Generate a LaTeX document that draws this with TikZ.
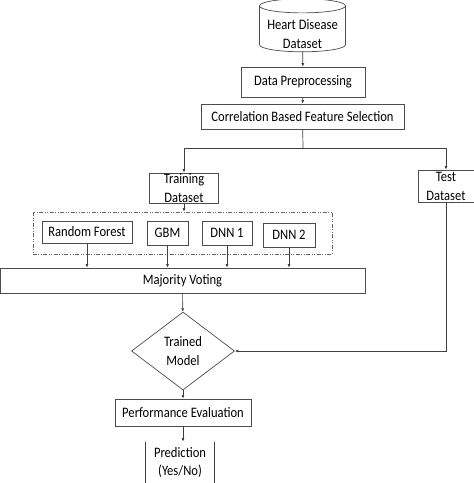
\documentclass[tikz,border=0pt]{standalone}
\usepackage{fontspec}
\setmainfont{Carlito}[FakeStretch=0.87]
\usetikzlibrary{shapes.geometric,arrows.meta}

\begin{document}
\begin{tikzpicture}[x=1bp,y=-1bp,
  font=\fontsize{14.5}{19}\selectfont,
  box/.style={draw=black!70,line width=0.7bp,inner sep=0pt,align=center,text=black},
  arr/.style={draw=black!75,line width=0.7bp,-{Latex[length=3.5bp,width=3bp]}},
  ln/.style={draw=black!75,line width=0.7bp}]
\useasboundingbox (0,0) rectangle (474,483);
\clip (0,0) rectangle (474,483);
\node[box,cylinder,shape border rotate=90,aspect=0.2,minimum width=86bp,minimum height=53bp,
  label={[yshift=-5bp,align=center,text=black]center:Heart Disease\\Dataset}] (data) at (302.5,29) {\phantom{Heart Disease}};
\node[box,minimum width=124bp,minimum height=30bp] (prep) at (303,82) {Data Preprocessing};
\node[box,minimum width=203bp,minimum height=25bp] (corr) at (302.5,116.5) {Correlation Based Feature Selection};
\node[box,minimum width=69bp,minimum height=30bp] (train) at (184,188) {Training\\Dataset};
\node[box,minimum width=56bp,minimum height=32bp] (test) at (446,186) {Test\\Dataset};
\node[box,draw=black!60,dash pattern=on 4bp off 1.5bp on 1bp off 1.5bp on 1bp off 1.5bp,minimum width=299bp,minimum height=42bp] (ens) at (182.5,233) {};
\node[box,minimum width=90bp,minimum height=22bp] (rf) at (87,232) {Random Forest};
\node[box,minimum width=41bp,minimum height=24bp] (gbm) at (167.5,233) {GBM};
\node[box,minimum width=50bp,minimum height=24bp] (dnn1) at (227,233) {DNN 1};
\node[box,minimum width=52bp,minimum height=24bp] (dnn2) at (289,235) {DNN 2};
\node[box,minimum width=365bp,minimum height=25bp] (vote) at (182.5,280.5) {Majority Voting};
\node[box,diamond,minimum width=103bp,minimum height=78bp] (model) at (183,351) {Trained\\Model};
\node[box,minimum width=136bp,minimum height=27bp] (perf) at (183,412.5) {Performance Evaluation};
\node[box,draw=none,minimum width=68bp,minimum height=41bp] (pred) at (180,462.5) {Prediction\\(Yes/No)};
\coordinate (split) at (303,148);
\coordinate (tl) at (184,148);
\coordinate (tr) at (446,148);
\draw[arr] (data) -- (prep);
\draw[arr] (prep) -- (corr);
\draw[ln] (corr) -- (split);
\draw[ln] (tl) -- (tr);
\draw[arr] (tl) -- (train);
\draw[arr] (tr) -- (test);
\draw[arr] (train) -- (train |- ens.north);
\draw[arr] (rf) -- (rf |- vote.north);
\draw[arr] (gbm) -- (gbm |- vote.north);
\draw[arr] (dnn1) -- (dnn1 |- vote.north);
\draw[arr] (dnn2) -- (dnn2 |- vote.north);
\draw[arr] (vote) -- (model);
\draw[arr] (test) -- (test |- model.east) -- (model.east);
\draw[arr] (model) -- (perf);
\draw[arr] (perf) -- (perf |- pred.north);
\draw[ln] (pred.north west) -- (pred.south west);
\draw[ln] (pred.north east) -- (pred.south east);
\end{tikzpicture}
\end{document}
